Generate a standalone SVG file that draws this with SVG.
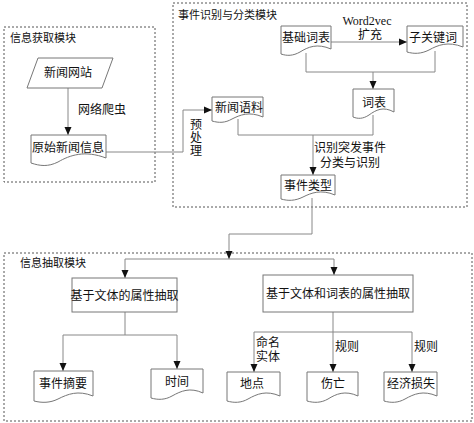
<svg xmlns="http://www.w3.org/2000/svg" width="474" height="423" viewBox="0 0 474 423">
<style>
text{font-family:"Liberation Serif","Noto Sans CJK SC",serif;font-size:12px;fill:#111}
.t{text-anchor:middle}
.ttl{font-size:11px}
.shape{fill:#fff;stroke:#777;stroke-width:1}
.group{fill:none;stroke:#555;stroke-width:1;stroke-dasharray:2 2}
.ln{fill:none;stroke:#888;stroke-width:1}
.ar{fill:none;stroke:#888;stroke-width:1;marker-end:url(#ah)}
</style>
<defs>
<marker id="ah" viewBox="0 0 8 8" refX="8" refY="4" markerWidth="8" markerHeight="8" markerUnits="userSpaceOnUse" orient="auto">
<path d="M0,0.5 L8,4 L0,7.5 Z" fill="#111"/>
</marker>
</defs>

<g id="groups">
<rect class="group" x="4" y="27" width="151" height="155" stroke="#888"/>
<rect class="group" x="173" y="3" width="294" height="204"/>
<rect class="group" x="4" y="253" width="468" height="168"/>
<text class="ttl" x="10" y="42">信息获取模块</text>
<text class="ttl" x="178" y="19">事件识别与分类模块</text>
<text class="ttl" x="20" y="267">信息抽取模块</text>
</g>

<g id="connectors">
<path class="ar" d="M68,88 V135"/>
<path class="ar" d="M106,152 H183 V110 H212"/>
<path class="ar" d="M331,42 H407"/>
<path class="ln" d="M306,53 V72 H435 V51"/>
<path class="ar" d="M373,72 V89"/>
<path class="ln" d="M238,119 V135 H373 V115"/>
<path class="ar" d="M313,135 V175"/>
<path class="ln" d="M312,198 V234 H229"/>
<path class="ar" d="M229,234 V259"/>
<path class="ln" d="M125,259 H334"/>
<path class="ar" d="M125,259 V278"/>
<path class="ar" d="M334,259 V275"/>
<path class="ln" d="M125,312 V335 H63"/>
<path class="ln" d="M125,335 H177"/>
<path class="ar" d="M63,335 V371"/>
<path class="ar" d="M177,335 V369"/>
<path class="ln" d="M333,312 V332 H254"/>
<path class="ln" d="M333,332 H412"/>
<path class="ar" d="M254,332 V372"/>
<path class="ar" d="M333,332 V372"/>
<path class="ar" d="M412,332 V372"/>
<text x="78" y="114">网络爬虫</text>
<text class="t" x="196" y="129">预</text>
<text class="t" x="196" y="142">处</text>
<text class="t" x="196" y="155">理</text>
<text class="t" x="367" y="25" font-size="12.5">Word2vec</text>
<text class="t" x="370" y="39">扩充</text>
<text class="t" x="350" y="152">识别突发事件</text>
<text class="t" x="350" y="167">分类与识别</text>
<text class="t" x="268" y="347">命名</text>
<text class="t" x="268" y="361">实体</text>
<text class="t" x="347" y="351">规则</text>
<text class="t" x="426" y="351">规则</text>
</g>

<g id="news-site">
<polygon class="shape" points="38,58 113,58 102,88 27,88"/>
<text class="t" x="68" y="77">新闻网站</text>
</g>
<g id="raw-news">
<path class="shape" d="M31,135 H106 V158 C85,150 70,155 58,162 C48,167 40,166 31,163 Z"/>
<text class="t" x="68" y="152">原始新闻信息</text>
</g>
<g id="base-words">
<path class="shape" d="M281,26 H331 V49 C317,43 308,47 300,52 C293,56 287,56 281,54 Z"/>
<text class="t" x="306" y="42">基础词表</text>
</g>
<g id="sub-keywords">
<path class="shape" d="M407,26 H463 V47 C448,41 438,45 429,50 C421,54 414,54 407,52 Z"/>
<text class="t" x="433" y="42">子关键词</text>
</g>
<g id="word-table">
<path class="shape" d="M353,89 H394 V112 C383,106 376,110 369,115 C363,119 358,119 353,117 Z"/>
<text class="t" x="374" y="107">词表</text>
</g>
<g id="news-corpus">
<path class="shape" d="M212,97 H263 V117 C249,111 240,115 232,119 C225,123 219,123 212,121 Z"/>
<text class="t" x="239" y="112">新闻语料</text>
</g>
<g id="event-type">
<path class="shape" d="M281,175 H335 V195 C321,189 311,193 303,197 C295,201 288,201 281,199 Z"/>
<text class="t" x="308" y="190">事件类型</text>
</g>
<g id="text-attr">
<rect class="shape" x="72" y="278" width="105" height="34"/>
<text class="t" x="124.5" y="300">基于文体的属性抽取</text>
</g>
<g id="text-table-attr">
<rect class="shape" x="263" y="275" width="150" height="37"/>
<text class="t" x="338" y="298">基于文体和词表的属性抽取</text>
</g>
<g id="summary">
<path class="shape" d="M34,371 H93 V396 C78,390 68,394 58,399 C50,403 42,403 34,401 Z"/>
<text class="t" x="63" y="388">事件摘要</text>
</g>
<g id="time">
<path class="shape" d="M151,369 H203 V393 C190,387 181,391 172,396 C165,400 158,400 151,398 Z"/>
<text class="t" x="177" y="386">时间</text>
</g>
<g id="location">
<path class="shape" d="M227,372 H280 V396 C266,390 257,394 248,399 C241,403 234,403 227,401 Z"/>
<text class="t" x="252" y="388">地点</text>
</g>
<g id="casualty">
<path class="shape" d="M307,372 H358 V396 C345,390 336,394 328,399 C321,403 314,403 307,401 Z"/>
<text class="t" x="333" y="388">伤亡</text>
</g>
<g id="loss">
<path class="shape" d="M384,372 H437 V396 C423,390 414,394 405,399 C398,403 391,403 384,401 Z"/>
<text class="t" x="411" y="388">经济损失</text>
</g>
</svg>
